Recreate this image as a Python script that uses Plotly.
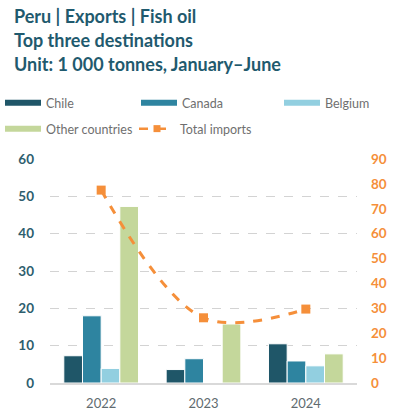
import plotly.graph_objects as go

years = ["2022", "2023", "2024"]
chile = [7.3, 3.6, 10.5]
canada = [18.0, 6.5, 5.9]
belgium = [3.9, 0, 4.6]
other = [47.3, 15.8, 7.8]
total_imports = [77.5, 26.2, 29.7]
left_ticks = [0, 10, 20, 30, 40, 50, 60]
right_ticks = [0, 10, 20, 30, 40, 50, 60, 70, 80, 90]

C_CHILE = "#1f5668"
C_CANADA = "#2e84a0"
C_BELGIUM = "#92cfe0"
C_OTHER = "#c4d79b"
C_ORANGE = "#f58f3a"
C_TITLE = "#1f5a6e"
FONT = "Lato"

W, H = 397, 415
ML, MR, MT, MB = 50, 40, 159, 32
PW, PH = W - ML - MR, H - MT - MB

fig = go.Figure()
series = [("Chile", chile, C_CHILE), ("Canada", canada, C_CANADA),
          ("Belgium", belgium, C_BELGIUM), ("Other countries", other, C_OTHER)]
for name, vals, col in series:
    fig.add_trace(go.Bar(x=years, y=vals, name=name, marker=dict(color=col, line=dict(color="white", width=1)),
                         showlegend=False))

fig.add_trace(go.Scatter(x=years, y=total_imports, name="Total imports", yaxis="y2",
                         mode="lines+markers", line=dict(color=C_ORANGE, width=3, dash="dash", shape="spline"),
                         marker=dict(symbol="square", size=9, color=C_ORANGE), showlegend=False))

# legend entries, each in its own legend box for exact placement
leg_names = ["legend", "legend2", "legend3", "legend4", "legend5"]
leg_pos = [(0, 103), (142, 103), (285, 103), (0, 129), (140, 129)]
for i, (name, vals, col) in enumerate(series):
    fig.add_trace(go.Scatter(x=[None], y=[None], name=name, mode="lines",
                             line=dict(color=col, width=6), legend=leg_names[i]))
fig.add_trace(go.Scatter(x=[None], y=[None], name="Total imports", mode="lines+markers",
                         line=dict(color=C_ORANGE, width=2.5, dash="dash"),
                         marker=dict(symbol="square", size=7, color=C_ORANGE), legend=leg_names[4]))

legends = {}
for ln, (px, py) in zip(leg_names, leg_pos):
    legends[ln] = dict(orientation="h", xref="container", yref="container", x=max(px - 6, 0) / W,
                       xanchor="left", y=1 - py / H, yanchor="middle", itemwidth=36,
                       font=dict(family=FONT, size=12.5, color="#6f6f6f"), bgcolor="rgba(0,0,0,0)")

fig.update_layout(
    width=W, height=H,
    margin=dict(l=ML, r=MR, t=MT, b=MB, autoexpand=False),
    paper_bgcolor="white", plot_bgcolor="white",
    barmode="group", bargap=0.27, bargroupgap=0,
    font=dict(family=FONT),
    **legends,
    xaxis=dict(showgrid=False, showline=True, linecolor="#d9d9d9", linewidth=1.5, ticklabelstandoff=8,
               tickfont=dict(family=FONT, size=13, color="#5f6b70"), ticks=""),
    yaxis=dict(range=[0, 60], tickvals=left_ticks, showgrid=True, gridcolor="#d3d3d3", griddash="dash",
               gridwidth=1, zeroline=False, showline=False, ticklabelstandoff=15,
               tickfont=dict(family=FONT, size=13.5, color="#2e5e6e", weight="bold")),
    yaxis2=dict(range=[0, 90], tickvals=right_ticks, overlaying="y", side="right", showgrid=False,
                zeroline=False, showline=False, ticklabelstandoff=13,
                tickfont=dict(family=FONT, size=13.5, color=C_ORANGE, weight="bold")),
)

titles = ["Peru | Exports | Fish oil", "Top three destinations", "Unit: 1 000 tonnes, January\u2013June"]
for i, t in enumerate(titles):
    fig.add_annotation(text=t, xref="paper", yref="paper", showarrow=False,
                       x=(12 - ML) / PW, y=(H - MB - (16 + 24 * i)) / PH,
                       xanchor="left", yanchor="middle",
                       font=dict(family=FONT, size=18, color=C_TITLE, weight="bold"))

fig.write_html("out.html", config={"displayModeBar": False},
               post_script="document.body.style.margin='0';")
